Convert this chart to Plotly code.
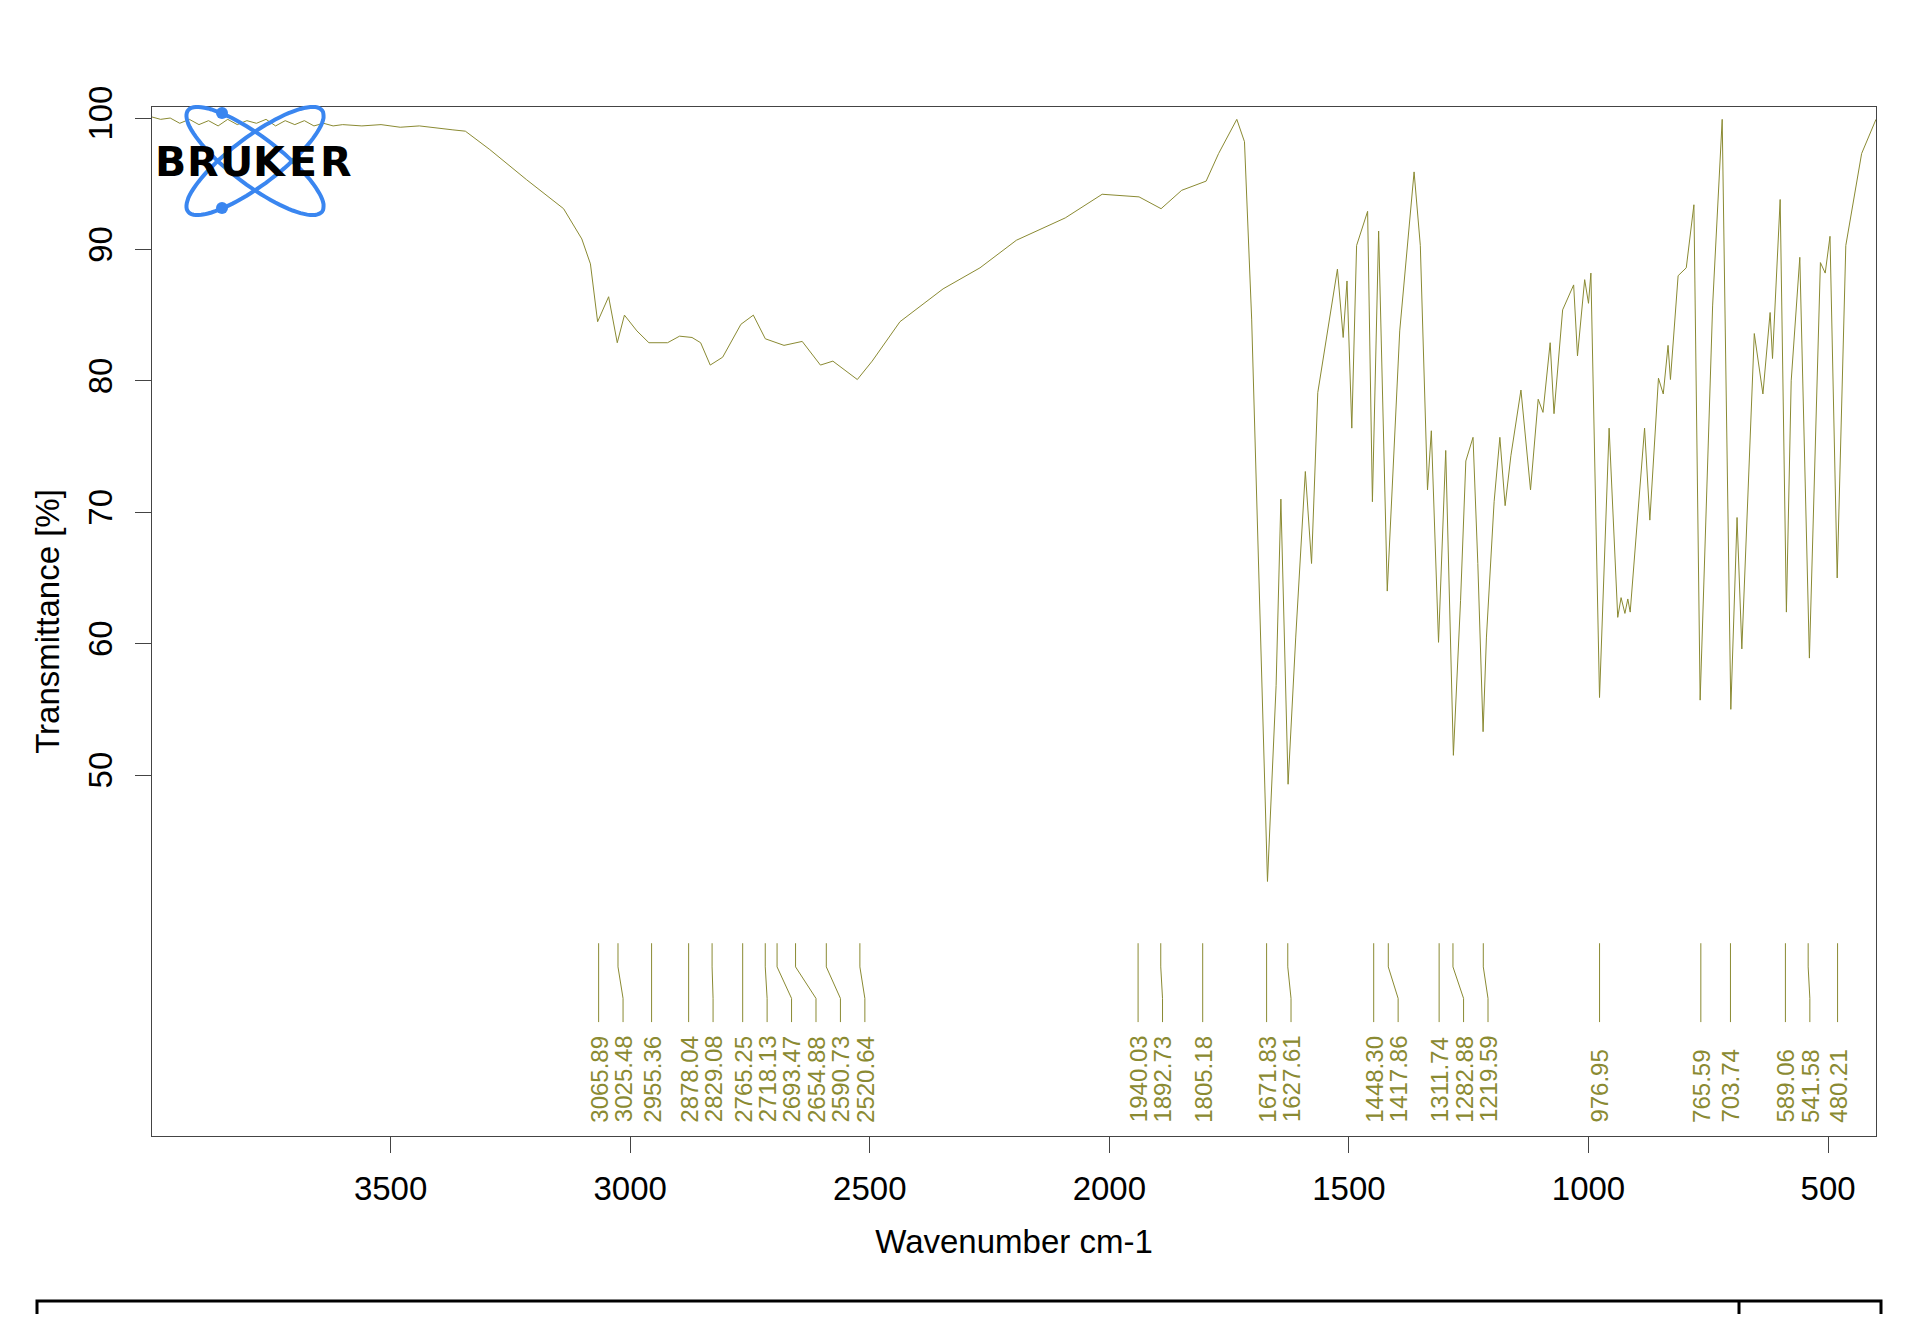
import numpy as np
import plotly.graph_objects as go

# spectrum vertices (wavenumber, transmittance)
wavenumber = [4000, 3980, 3960, 3940, 3920, 3900, 3880, 3860, 3840, 3820, 3800, 3780, 3760, 3740, 3720,
              3700, 3680, 3660, 3640, 3620, 3600, 3560, 3520, 3480, 3440, 3400, 3370, 3344, 3293, 3216,
              3139, 3101, 3083, 3068, 3045, 3027, 3012, 2986, 2961, 2922, 2897, 2871, 2853, 2833, 2807,
              2769, 2743, 2718, 2679, 2641, 2603, 2577, 2552, 2526, 2495, 2437, 2347, 2270, 2194, 2092,
              2015, 1938, 1892, 1849, 1798, 1772, 1734, 1718, 1703, 1688, 1670, 1652, 1642, 1627, 1611,
              1591, 1578, 1565, 1542, 1524, 1512, 1504, 1494, 1484, 1461, 1451, 1438, 1420, 1394, 1364,
              1351, 1336, 1328, 1313, 1298, 1282, 1267, 1256, 1241, 1231, 1220, 1213, 1197, 1185, 1174,
              1162, 1141, 1121, 1105, 1095, 1080, 1072, 1054, 1031, 1023, 1008, 1000, 995, 977, 957,
              939, 932, 924, 918, 913, 883, 872, 854, 844, 834, 829, 813, 796, 780, 767, 741, 721, 703,
              690, 680, 654, 636, 621, 616, 600, 587, 577, 559, 539, 516, 506, 496, 481, 463, 430, 404, 400]
transmittance = [100.1, 99.9, 100.0, 99.6, 99.9, 99.5, 99.8, 99.4, 99.9, 99.5, 99.8, 99.6, 99.9, 99.4, 99.8,
                 99.5, 99.8, 99.4, 99.6, 99.4, 99.5, 99.4, 99.5, 99.3, 99.4, 99.2, 99.1, 99.0, 97.6, 95.3,
                 93.1, 90.8, 88.9, 84.5, 86.4, 82.9, 85.0, 83.8, 82.9, 82.9, 83.4, 83.3, 82.9, 81.2, 81.8,
                 84.3, 85.0, 83.2, 82.7, 83.0, 81.2, 81.5, 80.8, 80.1, 81.5, 84.5, 87.0, 88.6, 90.7, 92.4,
                 94.2, 94.0, 93.1, 94.5, 95.2, 97.3, 99.9, 98.2, 84.7, 65.2, 41.9, 56.8, 71.0, 49.3, 60.5,
                 73.1, 66.1, 79.1, 84.3, 88.5, 83.3, 87.6, 76.4, 90.3, 92.9, 70.8, 91.4, 64.0, 83.8, 95.9,
                 90.3, 71.7, 76.2, 60.1, 74.7, 51.5, 63.3, 73.9, 75.7, 66.1, 53.3, 60.5, 70.8, 75.7, 70.5,
                 74.3, 79.3, 71.7, 78.6, 77.6, 82.9, 77.5, 85.4, 87.3, 81.9, 87.7, 85.9, 88.2, 55.9, 76.4,
                 62.0, 63.5, 62.3, 63.4, 62.4, 76.4, 69.4, 80.2, 79.0, 82.7, 80.1, 88.0, 88.6, 93.4, 55.7,
                 85.7, 99.9, 55.0, 69.6, 59.6, 83.6, 79.0, 85.2, 81.7, 93.8, 62.4, 80.0, 89.4, 58.9, 89.0,
                 88.2, 91.0, 65.0, 90.3, 97.3, 99.6, 99.9]

peaks = [3065.89, 3025.48, 2955.36, 2878.04, 2829.08, 2765.25, 2718.13, 2693.47, 2654.88, 2590.73, 2520.64,
         1940.03, 1892.73, 1805.18, 1671.83, 1627.61, 1448.30, 1417.86, 1311.74, 1282.88, 1219.59,
         976.95, 765.59, 703.74, 589.06, 541.58, 480.21]

olive = '#8a8a32'
blue = '#3a86f0'
axis_col = '#444444'

# spread crowded labels (greedy, high to low wavenumber)
gap = 51
label_pos = []
for p in peaks:
    pos = p if not label_pos else min(p, label_pos[-1] - gap)
    label_pos.append(pos)

fig = go.Figure()
fig.add_trace(go.Scatter(x=wavenumber, y=transmittance, mode='lines',
                         line=dict(color=olive, width=1), showlegend=False, hoverinfo='skip'))

for p, l in zip(peaks, label_pos):
    fig.add_trace(go.Scatter(x=[p, p, l, l], y=[37.2, 35.4, 33.0, 31.2], mode='lines',
                             line=dict(color=olive, width=1), showlegend=False, hoverinfo='skip'))
    fig.add_annotation(x=l, y=23.4, text=f'{p:.2f}', showarrow=False, textangle=-90,
                       xanchor='center', yanchor='bottom',
                       font=dict(size=24, color=olive, family='Liberation Sans'))

# plot area in page pixels; the page body has an 8px margin
PAD = 8
FW, FH = 1920 - 2 * PAD, 1322 - 2 * PAD
L, R, T, B = 152, 1876, 107, 1136
W, H = R - L, B - T


def px(x, y):
    return (x - L) / W, (B - y) / H


# Bruker logo: two tilted ellipses, two dots, letters
cx, cy = 255, 161
t = np.linspace(0, 2 * np.pi, 90)
for ang in (np.radians(37), np.radians(-37)):
    ex = cx + 84 * np.cos(t) * np.cos(ang) - 24 * np.sin(t) * np.sin(ang)
    ey = cy + 84 * np.cos(t) * np.sin(ang) + 24 * np.sin(t) * np.cos(ang)
    pts = [px(a, b) for a, b in zip(ex, ey)]
    path = 'M ' + ' L '.join(f'{a:.4f},{b:.4f}' for a, b in pts) + ' Z'
    fig.add_shape(type='path', path=path, xref='paper', yref='paper',
                  line=dict(color=blue, width=4))
for dy in (113, 208):
    x0, y0 = px(222 - 6, dy - 6)
    x1, y1 = px(222 + 6, dy + 6)
    fig.add_shape(type='circle', xref='paper', yref='paper', x0=x0, y0=y0, x1=x1, y1=y1,
                  fillcolor=blue, line=dict(color=blue, width=0))
for i, ch in enumerate('BRUKER'):
    lx, ly = px(170 + 33.2 * i, 162)
    fig.add_annotation(x=lx, y=ly, xref='paper', yref='paper', text=f'<b>{ch}</b>', showarrow=False,
                       xanchor='center', yanchor='middle',
                       font=dict(size=41, color='black', family='DejaVu Sans'))

# bottom box
bx0, by0 = px(37, 1301)
bx1, by1 = px(1881, 1340)
bxd, _ = px(1739, 0)
fig.add_shape(type='rect', xref='paper', yref='paper', x0=bx0, y0=by0, x1=bx1, y1=by1,
              line=dict(color='black', width=3))
fig.add_shape(type='line', xref='paper', yref='paper', x0=bxd, y0=by0, x1=bxd, y1=by1,
              line=dict(color='black', width=3))

title_font = dict(size=33, family='Liberation Sans', color='black')

fig.update_layout(
    width=FW, height=FH,
    margin=dict(l=L - PAD, r=FW - (R - PAD), t=T - PAD, b=FH - (B - PAD)),
    plot_bgcolor='white', paper_bgcolor='white',
    font=dict(family='Liberation Sans', size=33, color='black'),
    xaxis=dict(range=[3998, 400], tickvals=[3500, 3000, 2500, 2000, 1500, 1000, 500],
               showgrid=False, zeroline=False, showline=True, linecolor=axis_col, linewidth=1,
               mirror=True, ticks='outside', ticklen=16, tickcolor=axis_col, ticklabelstandoff=7,
               title=dict(text='Wavenumber cm-1', standoff=24, font=title_font)),
    yaxis=dict(range=[22.53, 100.84], tickvals=[50, 60, 70, 80, 90, 100], tickangle=-90,
               showgrid=False, zeroline=False, showline=True, linecolor=axis_col, linewidth=1,
               mirror=True, ticks='outside', ticklen=16, tickcolor=axis_col, ticklabelstandoff=10,
               title=dict(text='Transmittance [%]', standoff=12, font=title_font)),
)

fig.write_html('out.html')
